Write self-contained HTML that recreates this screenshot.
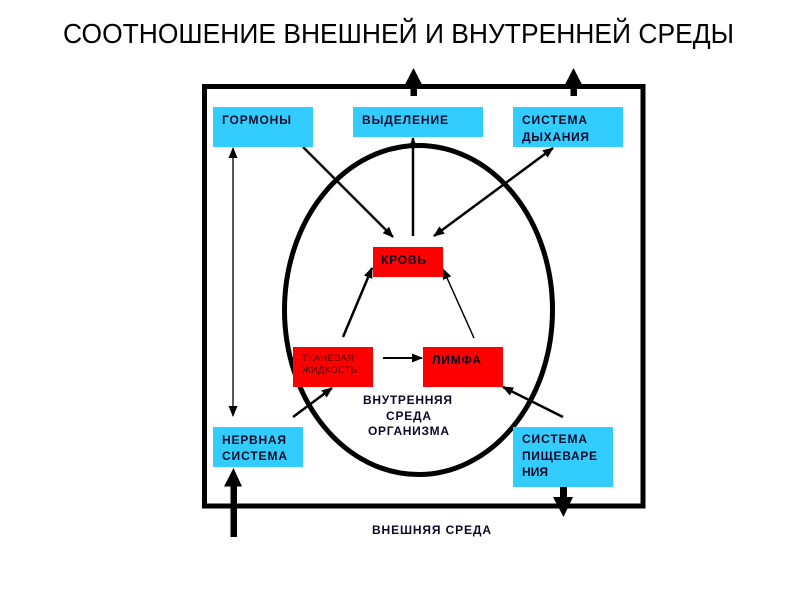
<!DOCTYPE html>
<html>
<head>
<meta charset="utf-8">
<style>
html,body{margin:0;padding:0;background:#fff;}
svg{display:block;}
text{font-family:"Liberation Sans", Arial, sans-serif;}
.b{font-weight:bold;font-size:12px;fill:#0a0a26;}
</style>
</head>
<body>
<svg width="800" height="600" viewBox="0 0 800 600" xmlns="http://www.w3.org/2000/svg">
<defs>
<marker id="ah" markerUnits="userSpaceOnUse" markerWidth="12" markerHeight="10" refX="10" refY="4.5" orient="auto">
<path d="M0,0 L11,4.5 L0,9 z" fill="#000"/>
</marker>
<marker id="as" markerUnits="userSpaceOnUse" markerWidth="12" markerHeight="10" refX="1" refY="4.5" orient="auto">
<path d="M11,0 L0,4.5 L11,9 z" fill="#000"/>
</marker>
</defs>
<rect width="800" height="600" fill="#fff"/>

<text x="63" y="43" font-size="28" fill="#000" textLength="671" lengthAdjust="spacingAndGlyphs">СООТНОШЕНИЕ ВНЕШНЕЙ И ВНУТРЕННЕЙ СРЕДЫ</text>

<!-- ellipse -->
<ellipse cx="418.5" cy="310" rx="134" ry="164.5" fill="none" stroke="#000" stroke-width="5"/>

<!-- outer rect -->
<rect x="204.5" y="86.5" width="438.5" height="419.5" fill="none" stroke="#000" stroke-width="5"/>

<!-- big arrows top -->
<rect x="410.5" y="84" width="6.5" height="12" fill="#000"/>
<polygon points="404.5,85.5 422.5,85.5 413.5,68" fill="#000"/>
<rect x="570.5" y="84" width="6.5" height="12" fill="#000"/>
<polygon points="564.5,85.5 582.5,85.5 573.5,68" fill="#000"/>

<!-- big arrow bottom-left up -->
<rect x="230.5" y="485" width="6.5" height="52" fill="#000"/>
<polygon points="224,486.5 242,486.5 233.5,468" fill="#000"/>

<!-- big arrow bottom-right down -->
<rect x="560" y="486" width="7" height="12" fill="#000"/>
<polygon points="553,497 573,497 563.5,517" fill="#000"/>

<!-- connectors -->
<line x1="303" y1="147" x2="393" y2="237" stroke="#000" stroke-width="2.5" marker-end="url(#ah)"/>
<line x1="413" y1="236" x2="413" y2="138" stroke="#000" stroke-width="2.5" marker-end="url(#ah)"/>
<line x1="434" y1="236" x2="553" y2="148" stroke="#000" stroke-width="2.5" marker-end="url(#ah)" marker-start="url(#as)"/>
<line x1="233" y1="148" x2="233" y2="416" stroke="#000" stroke-width="1.3" marker-end="url(#ah)" marker-start="url(#as)"/>
<line x1="343" y1="337" x2="372" y2="268" stroke="#000" stroke-width="2.5" marker-end="url(#ah)"/>
<line x1="474" y1="338" x2="443" y2="269" stroke="#000" stroke-width="1.5" marker-end="url(#ah)"/>
<line x1="383" y1="358" x2="422" y2="358" stroke="#000" stroke-width="2" marker-end="url(#ah)"/>
<line x1="293" y1="417" x2="332" y2="388" stroke="#000" stroke-width="2.5" marker-end="url(#ah)"/>
<line x1="563" y1="417" x2="503" y2="387" stroke="#000" stroke-width="2.5" marker-end="url(#ah)"/>

<!-- blue boxes -->
<rect x="213" y="107" width="100" height="40" fill="#33CCFF"/>
<rect x="353" y="107" width="130" height="30" fill="#33CCFF"/>
<rect x="513" y="107" width="110" height="40" fill="#33CCFF"/>
<rect x="213" y="427" width="90" height="40" fill="#33CCFF"/>
<rect x="513" y="427" width="100" height="60" fill="#33CCFF"/>

<!-- red boxes -->
<rect x="373" y="247" width="70" height="30" fill="#FF0000"/>
<rect x="293" y="347" width="80" height="40" fill="#FF0000"/>
<rect x="423" y="347" width="80" height="40" fill="#FF0000"/>

<!-- labels -->
<text class="b" x="222" y="124" textLength="69" lengthAdjust="spacing">ГОРМОНЫ</text>
<text class="b" x="362" y="124" textLength="86" lengthAdjust="spacing">ВЫДЕЛЕНИЕ</text>
<text class="b" x="522" y="124" textLength="65" lengthAdjust="spacing">СИСТЕМА</text>
<text class="b" x="522" y="141" textLength="67" lengthAdjust="spacing">ДЫХАНИЯ</text>

<text class="b" x="381" y="264" textLength="45" lengthAdjust="spacing">КРОВЬ</text>
<text class="b" x="432" y="364" textLength="49" lengthAdjust="spacing">ЛИМФА</text>
<text x="302" y="361" font-size="9.5" fill="#5a0000" textLength="52" lengthAdjust="spacing">ТКАНЕВАЯ</text>
<text x="302" y="373" font-size="9.5" fill="#5a0000" textLength="55" lengthAdjust="spacing">ЖИДКОСТЬ</text>

<text class="b" x="222" y="444" textLength="64" lengthAdjust="spacing">НЕРВНАЯ</text>
<text class="b" x="222" y="460" textLength="65" lengthAdjust="spacing">СИСТЕМА</text>

<text class="b" x="522" y="443" textLength="65" lengthAdjust="spacing">СИСТЕМА</text>
<text class="b" x="522" y="460" textLength="75" lengthAdjust="spacing">ПИЩЕВАРЕ</text>
<text class="b" x="522" y="476" textLength="26" lengthAdjust="spacing">НИЯ</text>

<text class="b" x="363" y="404" textLength="89" lengthAdjust="spacing">ВНУТРЕННЯЯ</text>
<text class="b" x="386" y="420" textLength="45" lengthAdjust="spacing">СРЕДА</text>
<text class="b" x="368" y="435" textLength="81" lengthAdjust="spacing">ОРГАНИЗМА</text>

<text class="b" x="372" y="534" textLength="119" lengthAdjust="spacing">ВНЕШНЯЯ СРЕДА</text>
</svg>
</body>
</html>
